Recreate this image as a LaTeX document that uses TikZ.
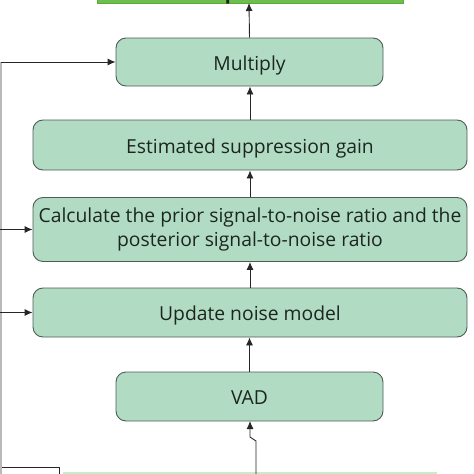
\documentclass[tikz,border=0pt]{standalone}
\usepackage{fontspec}
\setmainfont{Open Sans}
\usetikzlibrary{arrows.meta}
\definecolor{boxfill}{HTML}{B1DCC3}
\definecolor{boxline}{HTML}{4E5C54}
\definecolor{outfill}{HTML}{6CBF4C}
\definecolor{outline}{HTML}{5CAA3E}
\definecolor{infill}{HTML}{C9EDC4}
\definecolor{txt}{HTML}{1C261F}
\tikzset{
  stepbox/.style={draw=boxline, fill=boxfill, rounded corners=10pt, line width=0.9pt,
    text=txt, align=center, inner sep=0pt, font=\fontsize{19.3}{24}\selectfont},
  oneline/.style={text height=16pt, text depth=0pt},
  flow/.style={->, line width=0.9pt, draw=black!85},
}
\begin{document}
\begin{tikzpicture}[x=1pt, y=-1pt, >={Latex[length=8pt,width=7pt]}]
  \useasboundingbox (0,0) rectangle (474,474);
  % output block (cut at top edge)
  \fill[outfill, draw=outline, line width=0.9pt] (97,-40) rectangle (403,3);
  \node[anchor=base, text=txt, font=\fontsize{19.3}{24}\selectfont\bfseries] (outtxt) at (249,-1) {speech};
  \coordinate (outb) at (249,3);

  % processing chain
  \node[stepbox, oneline, minimum width=267pt, minimum height=48pt] (mult) at (249.5,62) {Multiply};
  \node[stepbox, oneline, minimum width=434pt, minimum height=50pt] (gain) at (250,145) {Estimated suppression gain};
  \node[stepbox, minimum width=434pt, minimum height=64pt] (snr) at (250,229.5)
    {Calculate the prior signal-to-noise ratio and the\\posterior signal-to-noise ratio};
  \node[stepbox, oneline, minimum width=434pt, minimum height=49pt] (noise) at (250,312.5) {Update noise model};
  \node[stepbox, oneline, minimum width=267pt, minimum height=49pt] (vad) at (249.5,396.5) {VAD};

  % input blocks (cut at bottom edge)
  \fill[infill] (63,472) rectangle (437,500);
  \draw[line width=0.9pt, black!85] (-5,467) -- (59,467) -- (59,480);

  % vertical connectors
  \draw[flow] (mult.north) -- (outb);
  \draw[flow] (gain.north) -- (gain.north |- mult.south);
  \draw[flow] (snr.north) -- (snr.north |- gain.south);
  \draw[flow] (noise.north) -- (noise.north |- snr.south);
  \draw[flow] (vad.north) -- (vad.north |- noise.south);
  \coordinate (inp) at (256,480);
  \coordinate (jog) at (256,441);
  \draw[flow] (inp) -- (jog) -- (250,437) -- (250,421);

  % feedback line on the left
  \coordinate (fbtop) at (1,62);
  \draw[gray!55, line width=1.6pt] (fbtop) -- (1,480);
  \draw[flow] (fbtop) -- (mult.west);
  \draw[flow] (0,229.5) -- (snr.west);
  \draw[flow] (0,312.5) -- (noise.west);
\end{tikzpicture}
\end{document}
